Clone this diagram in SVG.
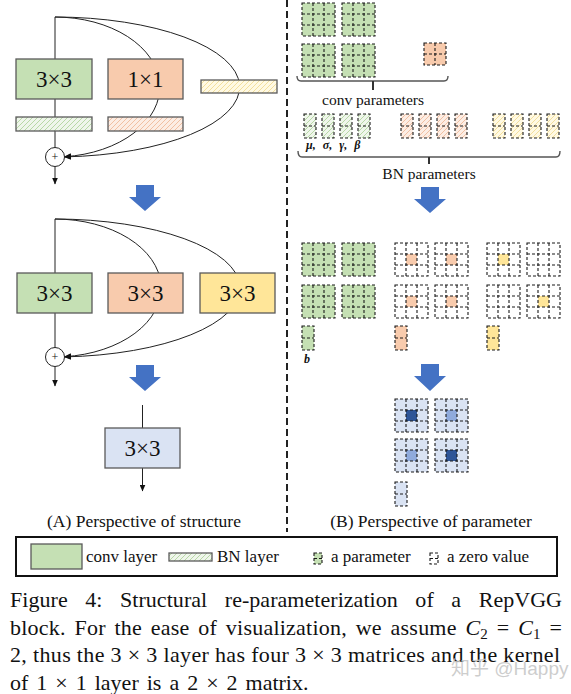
<svg xmlns="http://www.w3.org/2000/svg" xmlns:xlink="http://www.w3.org/1999/xlink" width="571" height="694" viewBox="0 0 571 694">
<style>
text{font-family:"Liberation Serif","Times New Roman",serif;fill:#111}
.box{stroke:#5a5a5a;stroke-width:1.3}
.gf{fill:#c5e0b4}.of{fill:#f8cbad}.yf{fill:#ffe699}.bf{fill:#dae3f3}.bm{fill:#8faadc}.bd{fill:#2f5597}.wf{fill:#ffffff}
.grid{fill:none;stroke:#1a1a1a;stroke-width:1.1;stroke-dasharray:3 2}
.ln{fill:none;stroke:#222;stroke-width:1}
.blk{fill:#4472c4}
.br{fill:none;stroke:#555;stroke-width:1.4}
.tk{fill:none;stroke:#333;stroke-width:2}
.lbl{font-size:23px;text-anchor:middle}
.sm{font-size:15.5px;text-anchor:middle}
.gk{font-size:12px;font-weight:bold;font-style:italic}
.lg{font-size:17px}
.cap{font-size:22px}
</style>
<defs>
<pattern id="hg" patternUnits="userSpaceOnUse" width="5" height="5"><rect width="5" height="5" fill="#eff6eb"/><path d="M-1,1L1,-1M0,5L5,0M4,6L6,4" stroke="#b8d8a6" stroke-width="1"/></pattern>
<pattern id="ho" patternUnits="userSpaceOnUse" width="5" height="5"><rect width="5" height="5" fill="#fcede4"/><path d="M-1,1L1,-1M0,5L5,0M4,6L6,4" stroke="#f1c0a2" stroke-width="1"/></pattern>
<pattern id="hy" patternUnits="userSpaceOnUse" width="5" height="5"><rect width="5" height="5" fill="#fff9e3"/><path d="M-1,1L1,-1M0,5L5,0M4,6L6,4" stroke="#f3df9c" stroke-width="1"/></pattern>
<marker id="ah" markerWidth="7" markerHeight="6" refX="6.5" refY="3" orient="auto" markerUnits="userSpaceOnUse"><path d="M0,0L7,3L0,6Z" fill="#111"/></marker>
<g id="g3" class="grid"><rect width="33" height="33"/><path d="M11,0V33M22,0V33M0,11H33M0,22H33"/></g>
<g id="g2" class="grid"><rect width="22" height="22"/><path d="M11,0V22M0,11H22"/></g>
<g id="g12" class="grid"><rect width="12" height="24"/><path d="M0,12H12"/></g>
<g id="gs" class="grid"><rect width="8" height="11"/><path d="M0,5.5H8"/></g>
</defs>

<!-- separator -->
<path d="M287,0V532" stroke="#222" stroke-width="2" stroke-dasharray="7 4"/>

<!-- connectors -->
<g id="connectors">
<path class="ln" d="M55,17V147.5"/>
<path class="ln" d="M55,166.5V184" marker-end="url(#ah)"/>
<path class="ln" d="M55,17A105,70 0 0 1 64.5,156.7" marker-end="url(#ah)"/>
<path class="ln" d="M55,17A185,70 0 0 1 64.5,156.9" marker-end="url(#ah)"/>
<path class="ln" d="M55,219V347.5"/>
<path class="ln" d="M55,366.5V386" marker-end="url(#ah)"/>
<path class="ln" d="M55,219A106.5,69 0 0 1 64.5,356.7" marker-end="url(#ah)"/>
<path class="ln" d="M55,219A185.5,69 0 0 1 64.5,356.9" marker-end="url(#ah)"/>
<path class="ln" d="M142.5,405V428"/>
<path class="ln" d="M142.5,468V491" marker-end="url(#ah)"/>
</g>

<!-- left: structure (training) -->
<g id="train-conv3">
<rect class="box gf" x="16" y="59" width="76" height="40"/>
<text class="lbl" x="54" y="87">3×3</text>
</g>
<g id="train-conv1">
<rect class="box of" x="108" y="59" width="75" height="40"/>
<text class="lbl" x="145.5" y="87">1×1</text>
</g>
<g id="train-bn-id"><rect class="box" fill="url(#hy)" x="201" y="80" width="76" height="13"/></g>
<g id="train-bn3"><rect class="box" fill="url(#hg)" x="16" y="117" width="76" height="14"/></g>
<g id="train-bn1"><rect class="box" fill="url(#ho)" x="108" y="117" width="75" height="14"/></g>
<g id="train-add"><circle cx="55" cy="157" r="9.5" fill="#fff" stroke="#222" stroke-width="1"/><text x="55" y="161" font-size="12" text-anchor="middle">+</text></g>

<g id="arrow-a1"><path class="blk" d="M136,185H154V197H161L145,211L129,197H136Z"/></g>

<g id="mid-conv3a"><rect class="box gf" x="17" y="273" width="75" height="40"/><text class="lbl" x="54.5" y="301">3×3</text></g>
<g id="mid-conv3b"><rect class="box of" x="108" y="273" width="75" height="40"/><text class="lbl" x="145.5" y="301">3×3</text></g>
<g id="mid-conv3c"><rect class="box yf" x="200" y="273" width="75" height="40"/><text class="lbl" x="237.5" y="301">3×3</text></g>
<g id="mid-add"><circle cx="55" cy="357" r="9.5" fill="#fff" stroke="#222" stroke-width="1"/><text x="55" y="361" font-size="12" text-anchor="middle">+</text></g>

<g id="arrow-a2"><path class="blk" d="M136,365H154V377H161L145,391L129,377H136Z"/></g>

<g id="deploy-conv"><rect class="box bf" x="105" y="428" width="75" height="40"/><text class="lbl" x="142.5" y="456">3×3</text></g>

<text x="144" y="527" font-size="17.5" text-anchor="middle">(A) Perspective of structure</text>

<!-- right: parameters -->
<g id="conv-params">
<rect class="gf" x="302" y="3" width="33" height="33"/><use xlink:href="#g3" x="302" y="3"/>
<rect class="gf" x="342" y="3" width="33" height="33"/><use xlink:href="#g3" x="342" y="3"/>
<rect class="gf" x="302" y="44" width="33" height="33"/><use xlink:href="#g3" x="302" y="44"/>
<rect class="gf" x="342" y="44" width="33" height="33"/><use xlink:href="#g3" x="342" y="44"/>
<rect class="of" x="424" y="43" width="22" height="22"/><use xlink:href="#g2" x="424" y="43"/>
<path class="br" d="M297,76Q297,81 301,81H444Q448,81 448,76"/>
<path class="tk" d="M373,81V90"/>
<text class="sm" x="373" y="105">conv parameters</text>
</g>

<g id="bn-params">
<rect fill="url(#hg)" x="304" y="114" width="12" height="24"/><use xlink:href="#g12" x="304" y="114"/>
<rect fill="url(#hg)" x="322" y="114" width="12" height="24"/><use xlink:href="#g12" x="322" y="114"/>
<rect fill="url(#hg)" x="340" y="114" width="12" height="24"/><use xlink:href="#g12" x="340" y="114"/>
<rect fill="url(#hg)" x="358" y="114" width="12" height="24"/><use xlink:href="#g12" x="358" y="114"/>
<rect fill="url(#ho)" x="401" y="114" width="12" height="24"/><use xlink:href="#g12" x="401" y="114"/>
<rect fill="url(#ho)" x="419" y="114" width="12" height="24"/><use xlink:href="#g12" x="419" y="114"/>
<rect fill="url(#ho)" x="437" y="114" width="12" height="24"/><use xlink:href="#g12" x="437" y="114"/>
<rect fill="url(#ho)" x="455" y="114" width="12" height="24"/><use xlink:href="#g12" x="455" y="114"/>
<rect fill="url(#hy)" x="493" y="114" width="12" height="24"/><use xlink:href="#g12" x="493" y="114"/>
<rect fill="url(#hy)" x="511" y="114" width="12" height="24"/><use xlink:href="#g12" x="511" y="114"/>
<rect fill="url(#hy)" x="529" y="114" width="12" height="24"/><use xlink:href="#g12" x="529" y="114"/>
<rect fill="url(#hy)" x="547" y="114" width="12" height="24"/><use xlink:href="#g12" x="547" y="114"/>
<text class="gk" x="306" y="149" word-spacing="4">μ, σ, γ, β</text>
<path class="br" d="M298,151Q298,157 302,157H556Q560,157 560,151"/>
<path class="tk" d="M429,157V164"/>
<text class="sm" x="429" y="179">BN parameters</text>
</g>

<g id="arrow-b1"><path class="blk" d="M421,187H439V199H446L430,213L414,199H421Z"/></g>

<g id="fused-green">
<rect class="gf" x="302" y="243" width="33" height="33"/><use xlink:href="#g3" x="302" y="243"/>
<rect class="gf" x="342" y="243" width="33" height="33"/><use xlink:href="#g3" x="342" y="243"/>
<rect class="gf" x="302" y="285" width="33" height="33"/><use xlink:href="#g3" x="302" y="285"/>
<rect class="gf" x="342" y="285" width="33" height="33"/><use xlink:href="#g3" x="342" y="285"/>
<rect class="gf" x="302" y="326" width="12" height="24"/><use xlink:href="#g12" x="302" y="326"/>
<text class="gk" x="304" y="363" font-size="12.5">b</text>
</g>
<g id="fused-orange">
<rect class="wf" x="395" y="243" width="33" height="33"/><rect class="of" x="406" y="254" width="11" height="11"/><use xlink:href="#g3" x="395" y="243"/>
<rect class="wf" x="435" y="243" width="33" height="33"/><rect class="of" x="446" y="254" width="11" height="11"/><use xlink:href="#g3" x="435" y="243"/>
<rect class="wf" x="395" y="285" width="33" height="33"/><rect class="of" x="406" y="296" width="11" height="11"/><use xlink:href="#g3" x="395" y="285"/>
<rect class="wf" x="435" y="285" width="33" height="33"/><rect class="of" x="446" y="296" width="11" height="11"/><use xlink:href="#g3" x="435" y="285"/>
<rect class="of" x="395" y="326" width="12" height="24"/><use xlink:href="#g12" x="395" y="326"/>
</g>
<g id="fused-yellow">
<rect class="wf" x="487" y="243" width="33" height="33"/><rect class="yf" x="498" y="254" width="11" height="11"/><use xlink:href="#g3" x="487" y="243"/>
<rect class="wf" x="527" y="243" width="33" height="33"/><use xlink:href="#g3" x="527" y="243"/>
<rect class="wf" x="487" y="285" width="33" height="33"/><use xlink:href="#g3" x="487" y="285"/>
<rect class="wf" x="527" y="285" width="33" height="33"/><rect class="yf" x="538" y="296" width="11" height="11"/><use xlink:href="#g3" x="527" y="285"/>
<rect class="yf" x="487" y="326" width="12" height="24"/><use xlink:href="#g12" x="487" y="326"/>
</g>

<g id="arrow-b2"><path class="blk" d="M421,364H439V376H446L430,391L414,376H421Z"/></g>

<g id="final-params">
<rect class="bf" x="395" y="399" width="33" height="33"/><rect class="bd" x="406" y="410" width="11" height="11"/><use xlink:href="#g3" x="395" y="399"/>
<rect class="bf" x="435" y="399" width="33" height="33"/><rect class="bm" x="446" y="410" width="11" height="11"/><use xlink:href="#g3" x="435" y="399"/>
<rect class="bf" x="395" y="439" width="33" height="33"/><rect class="bm" x="406" y="450" width="11" height="11"/><use xlink:href="#g3" x="395" y="439"/>
<rect class="bf" x="435" y="439" width="33" height="33"/><rect class="bd" x="446" y="450" width="11" height="11"/><use xlink:href="#g3" x="435" y="439"/>
<rect class="bf" x="395" y="482" width="12" height="24"/><use xlink:href="#g12" x="395" y="482"/>
</g>

<text x="431" y="527" font-size="17.5" text-anchor="middle">(B) Perspective of parameter</text>

<!-- legend -->
<g id="legend">
<rect x="16" y="537" width="541" height="39" fill="none" stroke="#111" stroke-width="2"/>
<rect class="box gf" x="31" y="544" width="51" height="25"/>
<text class="lg" x="86" y="562">conv layer</text>
<rect class="box" fill="url(#hg)" x="169" y="553" width="43" height="8" stroke-width="1"/>
<text class="lg" x="217" y="562">BN layer</text>
<rect class="gf" x="314" y="553" width="8" height="11"/><use xlink:href="#gs" x="314" y="553"/>
<text class="lg" x="331" y="562">a parameter</text>
<rect class="wf" x="430" y="553" width="8" height="11"/><use xlink:href="#gs" x="430" y="553"/>
<text class="lg" x="447" y="562">a zero value</text>
</g>

<!-- caption -->
<g id="caption">
<text class="cap" x="10" y="607" textLength="552" lengthAdjust="spacing" word-spacing="12">Figure 4:  Structural re-parameterization of a RepVGG</text>
<text class="cap" x="10" y="635" textLength="552" lengthAdjust="spacing" word-spacing="3">block. For the ease of visualization, we assume <tspan font-style="italic">C</tspan><tspan font-size="15" dy="4">2</tspan><tspan dy="-4"> = </tspan><tspan font-style="italic">C</tspan><tspan font-size="15" dy="4">1</tspan><tspan dy="-4"> =</tspan></text>
<text class="cap" x="10" y="662" textLength="550" lengthAdjust="spacing">2, thus the 3 × 3 layer has four 3 × 3 matrices and the kernel</text>
<text class="cap" x="10" y="690" word-spacing="2.5">of 1 × 1 layer is a 2 × 2 matrix.</text>
</g>

<text x="451" y="675" font-size="19" fill="#bdbdbd" fill-opacity="0.85" style="font-family:'Liberation Sans','Noto Sans CJK SC',sans-serif;fill:#c4c4c4">知乎 @Happy</text>
</svg>
